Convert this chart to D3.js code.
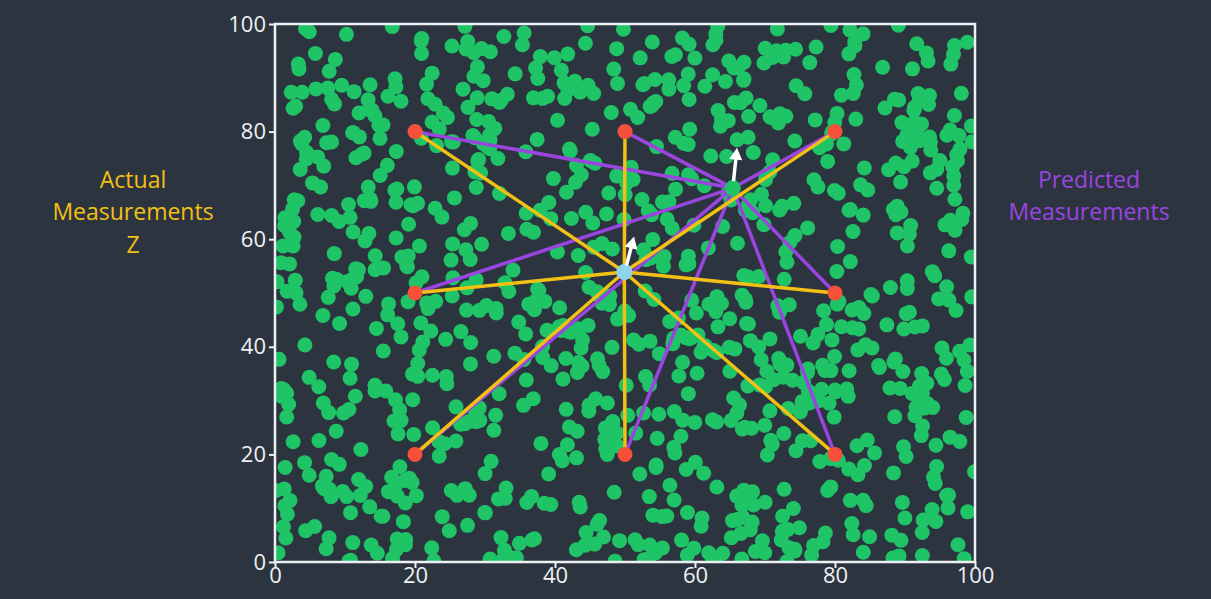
<!DOCTYPE html><html><head><meta charset="utf-8">
<script src="https://cdn.jsdelivr.net/npm/d3@7"></script>
<style>body{margin:0;background:#2c3440;}svg{display:block}</style></head><body>
<script>
const xTicks=[0,20,40,60,80,100];
const yTicks=[0,20,40,60,80,100];
const landmarks=[[20,80],[50,80],[80,80],[20,50],[80,50],[20,20],[50,20],[80,20]];
const robot=[49.9,53.9];
const robotHeading=[51.3,60.5];
const particle=[65.4,69.5];
const particleHeading=[66.0,77.0];
// particle cloud: uniformly scattered particles (the source cloud is random by nature); seeded, deterministic
const particleCount=1000;
const particles=(()=>{let s=12345;const r=()=>{s=(s*1103515245+12345)%2147483648;return s/2147483648;};
  const a=[];for(let i=0;i<particleCount;i++)a.push([r()*100,r()*100]);return a;})();
const leftLabel=["Actual","Measurements","Z"];
const rightLabel=["Predicted","Measurements"];

const W=1211,H=599;
const svg=d3.select("body").append("svg").attr("width",W).attr("height",H);
const x=d3.scaleLinear().domain([0,100]).range([275,975]);
const y=d3.scaleLinear().domain([0,100]).range([562,24]);
svg.append("defs").append("clipPath").attr("id","c").append("rect")
 .attr("x",275).attr("y",24).attr("width",700).attr("height",538);
const g=svg.append("g").attr("clip-path","url(#c)");
g.selectAll("circle.p").data(particles).join("circle").attr("class","p")
 .attr("cx",d=>x(d[0])).attr("cy",d=>y(d[1])).attr("r",7.5).attr("fill","#1ec466");
g.selectAll("line.pu").data(landmarks).join("line").attr("class","pu")
 .attr("x1",x(particle[0])).attr("y1",y(particle[1])).attr("x2",d=>x(d[0])).attr("y2",d=>y(d[1]))
 .attr("stroke","#9b45e0").attr("stroke-width",3.5);
g.selectAll("line.ye").data(landmarks).join("line").attr("class","ye")
 .attr("x1",x(robot[0])).attr("y1",y(robot[1])).attr("x2",d=>x(d[0])).attr("y2",d=>y(d[1]))
 .attr("stroke","#f2c114").attr("stroke-width",3.5);
g.append("circle").attr("cx",x(particle[0])).attr("cy",y(particle[1])).attr("r",8).attr("fill","#1ec466");
g.selectAll("circle.l").data(landmarks).join("circle").attr("class","l")
 .attr("cx",d=>x(d[0])).attr("cy",d=>y(d[1])).attr("r",7.5).attr("fill","#f5503a");
g.append("circle").attr("cx",x(robot[0])).attr("cy",y(robot[1])).attr("r",8).attr("fill","#8fd3ec");
function arrow(a,b){
  const x1=x(a[0]),y1=y(a[1]),x2=x(b[0]),y2=y(b[1]);
  const ang=Math.atan2(y2-y1,x2-x1);
  g.append("line").attr("x1",x1).attr("y1",y1).attr("x2",x2-6*Math.cos(ang)).attr("y2",y2-6*Math.sin(ang))
   .attr("stroke","#fff").attr("stroke-width",3.5);
  const p=[[x2,y2],[x2-12*Math.cos(ang)+6.5*Math.sin(ang),y2-12*Math.sin(ang)-6.5*Math.cos(ang)],
           [x2-12*Math.cos(ang)-6.5*Math.sin(ang),y2-12*Math.sin(ang)+6.5*Math.cos(ang)]];
  g.append("polygon").attr("points",p.map(q=>q.join(",")).join(" ")).attr("fill","#fff");
}
arrow([robot[0]+0.3,robot[1]+1.2],robotHeading);
arrow([particle[0]+0.1,particle[1]+1.3],particleHeading);
svg.append("rect").attr("x",275).attr("y",24).attr("width",700).attr("height",538)
 .attr("fill","none").attr("stroke","#eef1f4").attr("stroke-width",2.5);
const xa=svg.append("g").attr("transform","translate(0,562)").call(d3.axisBottom(x).tickValues(xTicks).tickSize(6));
const ya=svg.append("g").attr("transform","translate(275,0)").call(d3.axisLeft(y).tickValues(yTicks).tickSize(6));
[xa,ya].forEach(a=>{a.select(".domain").remove();a.selectAll("line").attr("stroke","#eef1f4").attr("stroke-width",2);
 a.selectAll("text").attr("fill","#eef1f4").attr("font-family","Open Sans").attr("font-size",22);});
xa.selectAll("text").attr("dy","0.55em");
const leftY=[188,220,253], rightY=[188,220];
svg.selectAll("text.ll").data(leftLabel).join("text").attr("class","ll").attr("text-anchor","middle")
 .attr("x",133).attr("y",(d,i)=>leftY[i]).attr("fill","#f2c114").attr("font-family","Open Sans").attr("font-size",23).text(d=>d);
svg.selectAll("text.rl").data(rightLabel).join("text").attr("class","rl").attr("text-anchor","middle")
 .attr("x",1089).attr("y",(d,i)=>rightY[i]).attr("fill","#9b45e0").attr("font-family","Open Sans").attr("font-size",23).text(d=>d);
</script></body></html>
